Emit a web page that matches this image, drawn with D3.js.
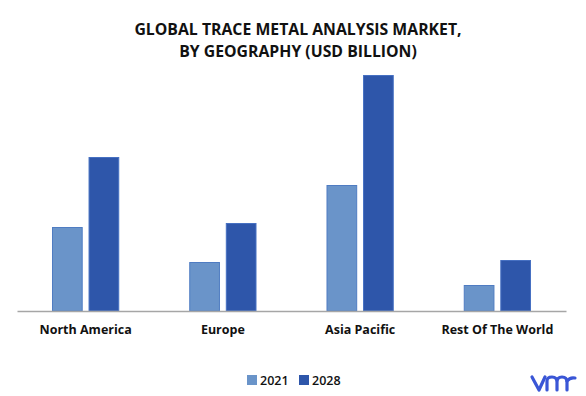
<!DOCTYPE html>
<html>
<head>
<meta charset="utf-8">
<script src="https://cdn.jsdelivr.net/npm/d3@7"></script>
<style>
  body { margin: 0; background: #fff; }
  svg { display: block; font-family: "Open Sans", sans-serif; }
</style>
</head>
<body>
<div id="chart"></div>
<script>
'use strict';

var regions = ['North America', 'Europe', 'Asia Pacific', 'Rest Of The World'];
var years = ['2021', '2028'];
var values2021 = [0.84, 0.49, 1.26, 0.26];
var values2028 = [1.54, 0.88, 2.36, 0.51];
var titleLines = ['GLOBAL TRACE METAL ANALYSIS MARKET,', 'BY GEOGRAPHY (USD BILLION)'];

var colors = { '2021': '#6a94c9', '2028': '#2e56aa' };
var strokes = { '2021': '#4f7cc2', '2028': '#4670c2' };

var width = 586, height = 396;
var baseY = 311, topY = 75;

var svg = d3.select('#chart').append('svg')
  .attr('width', width)
  .attr('height', height);

// title
svg.append('g').selectAll('text')
  .data(titleLines)
  .enter().append('text')
  .attr('x', 298)
  .attr('y', function(d, i) { return 35 + i * 22; })
  .attr('text-anchor', 'middle')
  .style('font-size', '15.8px')
  .style('font-weight', 700)
  .style('fill', '#111')
  .text(function(d) { return d; });

var rows = regions.map(function(r, i) {
  return { region: r, '2021': values2021[i], '2028': values2028[i] };
});

var x0 = d3.scaleBand().domain(regions).range([17, 566]).paddingInner(0.51).paddingOuter(0.255);
var x1 = d3.scaleBand().domain(years).range([0, x0.bandwidth()]).paddingInner(0.16);
var y = d3.scaleLinear().domain([0, d3.max(values2028)]).range([baseY, topY]);

var groups = svg.append('g').selectAll('g')
  .data(rows)
  .enter().append('g')
  .attr('transform', function(d) { return 'translate(' + x0(d.region) + ',0)'; });

groups.selectAll('rect')
  .data(function(d) { return years.map(function(k) { return { key: k, value: d[k] }; }); })
  .enter().append('rect')
  .attr('x', function(d) { return x1(d.key) + 0.5; })
  .attr('y', function(d) { return y(d.value) + 0.5; })
  .attr('width', x1.bandwidth() - 1)
  .attr('height', function(d) { return baseY - y(d.value) - 0.5; })
  .style('fill', function(d) { return colors[d.key]; })
  .style('stroke', function(d) { return strokes[d.key]; })
  .style('stroke-width', 1);

// x axis
var xAxis = d3.axisBottom(x0).tickSize(0).tickPadding(14);
var ax = svg.append('g').attr('transform', 'translate(0,' + baseY + ')').call(xAxis);
ax.select('.domain').attr('stroke', '#a6a6a6').attr('stroke-width', 1.5);
ax.selectAll('text')
  .style('font-family', '"Open Sans", sans-serif')
  .style('font-size', '12.5px')
  .style('font-weight', 700)
  .style('fill', '#111');

// legend
var legend = svg.append('g').selectAll('g')
  .data(years)
  .enter().append('g')
  .attr('transform', function(d, i) { return 'translate(' + (247 + i * 52) + ',375)'; });

legend.append('rect')
  .attr('width', 10)
  .attr('height', 10)
  .style('fill', function(d) { return colors[d]; });

legend.append('text')
  .attr('x', 13)
  .attr('y', 9.5)
  .style('font-size', '12.5px')
  .style('font-weight', 600)
  .style('fill', '#111')
  .text(function(d) { return d; });

// logo
var logo = svg.append('g')
  .attr('transform', 'translate(530,373)')
  .style('fill', 'none')
  .style('stroke', '#3a56d6')
  .style('stroke-width', 3.2)
  .style('stroke-linecap', 'round')
  .style('stroke-linejoin', 'round');
logo.append('path').attr('d', 'M2,4 L9,17 L15,4');
logo.append('path').attr('d', 'M17,17 L17,8 Q17,4 22,4 Q27,4 27,9 L27,17 M27,9 Q27,4 32,4 Q37,4 37,9 L37,17');
logo.append('path').attr('d', 'M37,8 Q40,4 45,5');
</script>
</body>
</html>
